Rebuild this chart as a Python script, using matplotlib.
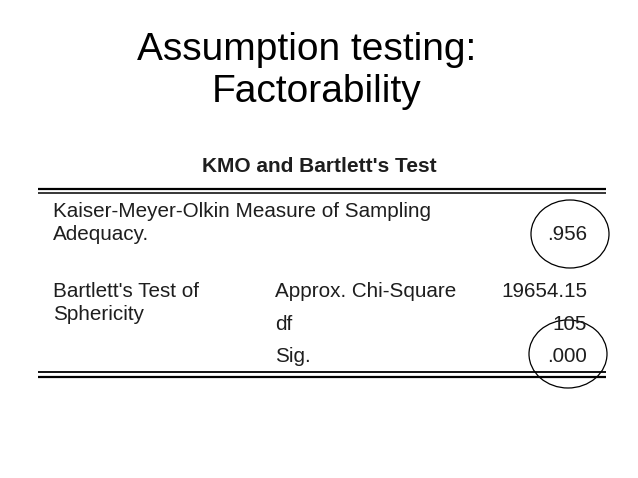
import matplotlib.pyplot as plt
from matplotlib.patches import Ellipse

plt.rcParams['font.family'] = ['Liberation Sans', 'DejaVu Sans']

# slide text
title_lines = ["Assumption testing:", "Factorability"]
table_title = "KMO and Bartlett's Test"

# table content
row_labels = ["Kaiser-Meyer-Olkin Measure of Sampling\nAdequacy.",
              "Bartlett's Test of\nSphericity"]
sub_labels = ["Approx. Chi-Square", "df", "Sig."]
kmo_value = ".956"
bartlett_values = ["19654.15", "105", ".000"]

fig = plt.figure(figsize=(6.38, 4.78), dpi=100)
ax = fig.add_axes([0, 0, 1, 1])
ax.set_xlim(0, 638)
ax.set_ylim(478, 0)
ax.axis('off')

txt = '#1e1e1e'

# title
ax.text(137, 60, title_lines[0], fontsize=28, va='baseline', ha='left', color='black')
ax.text(212, 102, title_lines[1], fontsize=28, va='baseline', ha='left', color='black')

# table heading
ax.text(319.5, 171.5, table_title, fontsize=15, fontweight='bold',
        va='baseline', ha='center', color=txt)

# double rules
x0, x1 = 38, 606
ax.plot([x0, x1], [189, 189], color='black', lw=1.6, solid_capstyle='butt')
ax.plot([x0, x1], [192.6, 192.6], color='black', lw=1.1, solid_capstyle='butt')
ax.plot([x0, x1], [372.3, 372.3], color='black', lw=1.3, solid_capstyle='butt')
ax.plot([x0, x1], [377, 377], color='black', lw=1.6, solid_capstyle='butt')

fs = 14.9
# KMO row
ax.text(53, 216.7, row_labels[0].split('\n')[0], fontsize=fs, va='baseline', color=txt)
ax.text(53, 240, row_labels[0].split('\n')[1], fontsize=fs, va='baseline', color=txt)
ax.text(587, 240, kmo_value, fontsize=fs, va='baseline', ha='right', color=txt)

# Bartlett rows
ax.text(53, 296.7, row_labels[1].split('\n')[0], fontsize=fs, va='baseline', color=txt)
ax.text(53, 320, row_labels[1].split('\n')[1], fontsize=fs, va='baseline', color=txt)
base = [296.7, 330.5, 361.7]
for lab, val, y in zip(sub_labels, bartlett_values, base):
    ax.text(275, y, lab, fontsize=fs, va='baseline', color=txt)
    ax.text(587, y, val, fontsize=fs, va='baseline', ha='right', color=txt)

# hand-drawn circles
ax.add_patch(Ellipse((570, 234), 78, 68, fill=False, ec='black', lw=0.9))
ax.add_patch(Ellipse((568, 354), 78, 68, fill=False, ec='black', lw=0.9))

fig.savefig('out.png', dpi=100, facecolor='white')
